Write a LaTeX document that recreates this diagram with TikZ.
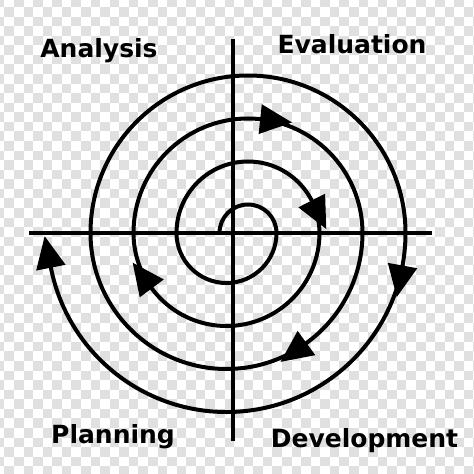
\documentclass[tikz,border=0pt]{standalone}
\usepackage{fontspec}
\setmainfont{DejaVu Sans}
\usetikzlibrary{decorations.markings}
\colorlet{checker}{black!12}
\tikzset{
  spiral/.style={line width=4pt},
  head/.style={postaction={decorate,decoration={markings,
    mark=at position #1 with {\fill (0pt,-15pt) -- (32pt,0pt) -- (0pt,15pt) -- cycle;}}}},
  phase/.style={font=\bfseries\fontsize{25}{30}\selectfont, anchor=base, inner sep=0pt}
}
\begin{document}
\begin{tikzpicture}[x=1pt,y=1pt]
\useasboundingbox (-233,-241) rectangle (241,233);
\begin{scope}
\clip (-233,-241) rectangle (241,233);
\foreach \i in {0,...,50}{
  \foreach \j in {0,...,25}{
    \fill[checker] ({-238.14+9.57*\i},{235.6-9.57*(2*\j+mod(\i,2))}) rectangle ++(9.57,-9.57);
  }
}
\end{scope}
\draw[line width=4pt] (0,194) -- (0,-208);
\draw[line width=4pt] (-203.7,0) -- (198.7,0);
\draw[spiral] (-13.5,0) arc (180:0:28.5);
\draw[spiral] (43.5,0) arc (0:-180:50);
\draw[spiral,head=0.85] (-56.5,0) arc (180:0:71.5);
\draw[spiral,head=0.797] (86.5,0) arc (0:-180:93);
\draw[spiral,head=0.534] (-99.5,0) arc (180:0:114.5);
\draw[spiral,head=0.30] (129.5,0) arc (0:-180:136);
\draw[spiral] (-142.5,0) arc (180:0:157.5);
\draw[spiral,head=0.062,head=0.999] (172.5,0) arc (0:-169:179);
\node[phase] (analysis) at (-134,175.7) {Analysis};
\node[phase] (evaluation) at (119,179) {Evaluation};
\node[phase] (planning) at (-120,-210.7) {Planning};
\node[phase] (development) at (131.5,-214.7) {Development};
\end{tikzpicture}
\end{document}
